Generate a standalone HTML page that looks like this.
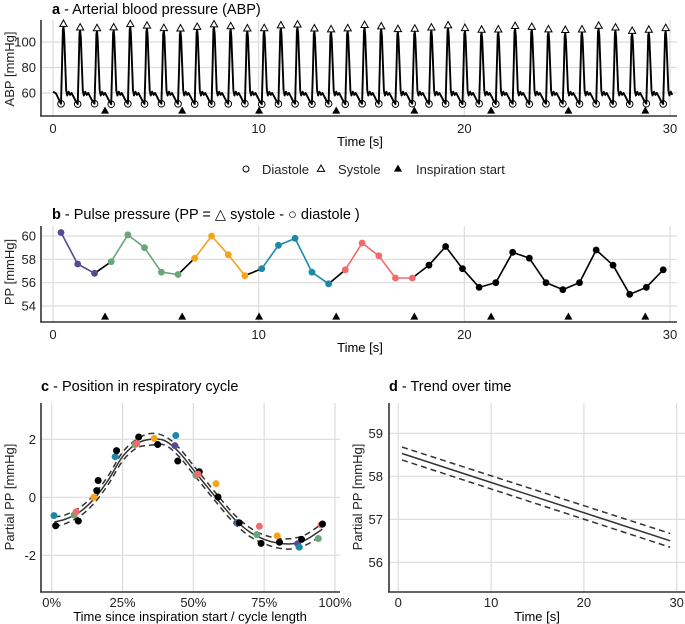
<!DOCTYPE html>
<html><head><meta charset="utf-8"><style>
html,body{margin:0;padding:0;background:#fff;width:685px;height:624px;overflow:hidden}
svg{display:block;font-family:"Liberation Sans",sans-serif}
</style></head><body>
<svg id="fig" width="685" height="624" viewBox="0 0 685 624"></svg>
<script>
// ---- data ----
const beatTimes=[0.39,1.20,2.02,2.83,3.64,4.45,5.27,6.08,6.89,7.71,8.52,9.33,10.15,10.96,11.77,12.59,13.40,14.21,15.03,15.84,16.65,17.47,18.28,19.09,19.91,20.72,21.53,22.35,23.16,23.97,24.79,25.60,26.41,27.23,28.04,28.85,29.67];
const ppValues=[60.3,57.6,56.8,57.8,60.1,59.0,56.9,56.7,58.1,60.0,58.4,56.6,57.2,59.2,59.8,56.9,55.9,57.1,59.4,58.3,56.4,56.4,57.5,59.1,57.2,55.6,56.0,58.6,58.1,56.0,55.4,56.0,58.8,57.5,55.0,55.6,57.1];
const diaValues=[51.5,51.3,51.6,51.2,51.5,51.4,51.6,51.5,51.3,51.4,51.5,51.6,51.2,51.4,51.5,51.3,51.6,51.2,51.5,51.5,51.3,51.6,51.4,51.5,51.3,51.6,51.4,51.5,51.3,51.5,51.6,51.4,51.5,51.4,51.3,51.6,51.4];
const cycleGroup=[0,0,0,1,1,1,1,1,2,2,2,2,3,3,3,3,3,4,4,4,4,4,-1,-1,-1,-1,-1,-1,-1,-1,-1,-1,-1,-1,-1,-1,-1];
const inspTimes=[2.53,6.28,10.02,13.77,17.57,21.3,25.06,28.8];
const groupColors=["#574b90","#6aa67a","#f5a31a","#1a8aa8","#f46a6b"];
// panel c
const cPct=[0.8,1.4,7.9,8.6,9.4,14.9,15.9,16.4,22.4,22.9,29.4,30.0,30.7,36.2,37.4,43.5,43.8,44.5,50.9,52.1,51.6,58.0,58.7,65.3,65.8,66.2,72.4,73.3,73.9,79.6,80.4,86.8,87.4,88.2,94.1,95.1,95.6];
const cVal=[-0.63,-0.98,-0.61,-0.50,-0.82,0.0,0.23,0.58,1.40,1.61,1.82,1.85,2.08,2.03,1.82,1.78,2.13,1.25,0.76,0.88,0.80,0.47,0.01,-0.88,-0.87,-0.88,-1.29,-1.0,-1.59,-1.33,-1.55,-1.6,-1.72,-1.45,-1.42,-0.95,-0.92];
const cGroup=[3,-1,1,4,-1,2,-1,-1,3,-1,1,4,-1,2,-1,0,3,-1,1,-1,4,2,-1,0,3,-1,1,4,-1,2,-1,0,3,-1,1,4,-1];
const fitPct=[1,5,10,15,20,25,30,35,40,45,50,55,60,65,70,75,80,85,90,95.5];
const fitVal=[-0.85,-0.75,-0.5,-0.05,0.6,1.4,1.85,2.0,1.95,1.55,0.95,0.35,-0.25,-0.8,-1.2,-1.45,-1.58,-1.6,-1.45,-1.1];
const fitHalf=[0.17,0.15,0.15,0.15,0.15,0.15,0.15,0.2,0.15,0.15,0.15,0.15,0.15,0.15,0.15,0.15,0.17,0.18,0.18,0.2];
// panel d
const trendT=[0.4,29.3];
const trendFit=[58.53,56.5];
const trendUp=[58.68,56.67];
const trendLo=[58.38,56.35];

const NS="http://www.w3.org/2000/svg";
const svg=document.getElementById('fig');
function el(tag,attrs,parent,name,inter){const e=document.createElementNS(NS,tag);for(const k in attrs)e.setAttribute(k,attrs[k]);


(parent||svg).appendChild(e);return e;}
function txt(x,y,s,opts,name){const t=el('text',Object.assign({x:x,y:y,'font-size':13,fill:'#222'},opts||{}),null,name);t.textContent=s;return t;}
function lin(d0,d1,r0,r1){return v=>r0+(v-d0)*(r1-r0)/(d1-d0);}
function grid(xs,ys,X,Y,x0,x1,y0,y1,p){xs.forEach(v=>el('line',{x1:X(v),x2:X(v),y1:y0,y2:y1,stroke:'#dcdcdc','stroke-width':1.2},null,p+'-vgrid'));
ys.forEach(v=>el('line',{x1:x0,x2:x1,y1:Y(v),y2:Y(v),stroke:'#dcdcdc','stroke-width':1.2},null,p+'-hgrid'));}
function axes(x0,x1,y0,y1,p){el('line',{x1:x0,x2:x0,y1:y0,y2:y1,stroke:'#333','stroke-width':1.6},null,p+'-y-axis');el('line',{x1:x0-1,x2:x1,y1:y1,y2:y1,stroke:'#333','stroke-width':1.6},null,p+'-x-axis');}
function tri(x,y,s,fill,name){return el('path',{d:`M${x},${y-s}L${x+s*0.9},${y+s*0.6}L${x-s*0.9},${y+s*0.6}Z`,fill:fill,stroke:'#000','stroke-width':1},null,name);}

// ---- Panel a ----
{const X=lin(0,30,53,670),Y=lin(60,100,93,42);
grid([0,10,20,30],[60,80,100],X,Y,41,677,20,116,'abp');
let pts=[[0,61],[0.15,59.5],[0.28,55]];
for(let i=0;i<beatTimes.length;i++){const t=beatTimes[i],d=diaValues[i],s=d+ppValues[i];
pts.push([t,d],[t+0.05,d+(s-d)*0.5],[t+0.09,s-2],[t+0.12,s],[t+0.15,s-5],[t+0.25,62],[t+0.3,58],[t+0.37,61],[t+0.44,58.5],[t+0.51,60],[t+0.61,57],[t+0.72,53.5]);}
pts=pts.filter(p=>p[0]<=30.15);
el('path',{d:'M'+pts.map(p=>X(p[0]).toFixed(1)+','+Y(p[1]).toFixed(1)).join('L'),fill:'none',stroke:'#000','stroke-width':1.9,'stroke-linejoin':'round'},null,'abp-waveform');
beatTimes.forEach((t,i)=>{el('circle',{cx:X(t),cy:Y(diaValues[i]),r:3.3,fill:'none',stroke:'#000','stroke-width':1},null,'diastole-marker');
tri(X(t+0.12),Y(diaValues[i]+ppValues[i])-3,4,'#fff','systole-marker');});
inspTimes.forEach(t=>tri(X(t),111,3.5,'#000','inspiration-marker'));
axes(41,677,20,116,'abp');
[60,80,100].forEach(v=>txt(36,Y(v)+4.5,v,{'text-anchor':'end'},'abp-y-tick'));
[0,10,20,30].forEach(v=>txt(X(v),133,v,{'text-anchor':'middle'},'abp-x-tick'));
txt(360,146,'Time [s]',{'text-anchor':'middle',fill:'#000'},'abp-x-title');
txt(14,69,'ABP [mmHg]',{'text-anchor':'middle',transform:'rotate(-90 14 69)'},'abp-y-title');
const t=txt(52,14,'',{'font-size':14.5,fill:'#000'},'abp-title');t.innerHTML='<tspan font-weight="bold">a</tspan> - Arterial blood pressure (ABP)';
// legend
el('circle',{cx:246,cy:169,r:3,fill:'none',stroke:'#000'},null,'legend-diastole-icon');txt(262,174,'Diastole',{},'legend-diastole');
tri(321,169,4,'#fff','legend-systole-icon');txt(338,174,'Systole',{},'legend-systole');
tri(398,169,3.5,'#000','legend-inspiration-icon');txt(416,174,'Inspiration start',{},'legend-inspiration');}

// ---- Panel b ----
{const X=lin(0,30,53,670),Y=lin(54,60,306,236);
grid([0,10,20,30],[54,56,58,60],X,Y,41,677,226,322,'pp');
for(let i=0;i<beatTimes.length-1;i++){const g=cycleGroup[i]===cycleGroup[i+1]&&cycleGroup[i]>=0?groupColors[cycleGroup[i]]:'#000';
el('line',{x1:X(beatTimes[i]),y1:Y(ppValues[i]),x2:X(beatTimes[i+1]),y2:Y(ppValues[i+1]),stroke:g,'stroke-width':1.6},null,'pp-segment');}
beatTimes.forEach((t,i)=>el('circle',{cx:X(t),cy:Y(ppValues[i]),r:3.4,fill:cycleGroup[i]>=0?groupColors[cycleGroup[i]]:'#000'},null,'pp-point'));
inspTimes.forEach(t=>tri(X(t),317,3.5,'#000','inspiration-marker'));
axes(41,677,226,322,'pp');
[54,56,58,60].forEach(v=>txt(36,Y(v)+4.5,v,{'text-anchor':'end'},'pp-y-tick'));
[0,10,20,30].forEach(v=>txt(X(v),339,v,{'text-anchor':'middle'},'pp-x-tick'));
txt(360,352,'Time [s]',{'text-anchor':'middle',fill:'#000'},'pp-x-title');
txt(14,272,'PP [mmHg]',{'text-anchor':'middle',transform:'rotate(-90 14 272)'},'pp-y-title');
const t=txt(52,219,'',{'font-size':14.5,fill:'#000'},'pp-title');t.innerHTML='<tspan font-weight="bold">b</tspan> - Pulse pressure (PP = △ systole - ○ diastole )';}

function smooth(P){let d='M'+P[0][0].toFixed(1)+','+P[0][1].toFixed(1);
for(let i=0;i<P.length-1;i++){const p0=P[Math.max(0,i-1)],p1=P[i],p2=P[i+1],p3=P[Math.min(P.length-1,i+2)];
d+=`C${(p1[0]+(p2[0]-p0[0])/6).toFixed(1)},${(p1[1]+(p2[1]-p0[1])/6).toFixed(1)} ${(p2[0]-(p3[0]-p1[0])/6).toFixed(1)},${(p2[1]-(p3[1]-p1[1])/6).toFixed(1)} ${p2[0].toFixed(1)},${p2[1].toFixed(1)}`;}return d;}

// ---- Panel c ----
{const X=lin(0,100,51.7,335),Y=lin(0,2,497.3,439.3);
grid([0,25,50,75,100],[-2,0,2],X,Y,41,340,403,592,'cycle');
el('path',{d:smooth(fitPct.map((p,i)=>[X(p),Y(fitVal[i]+fitHalf[i])])),fill:'none',stroke:'#333','stroke-width':1.5,'stroke-dasharray':'6,4'},null,'cycle-ci-upper');
el('path',{d:smooth(fitPct.map((p,i)=>[X(p),Y(fitVal[i]-fitHalf[i])])),fill:'none',stroke:'#333','stroke-width':1.5,'stroke-dasharray':'6,4'},null,'cycle-ci-lower');
el('path',{d:smooth(fitPct.map((p,i)=>[X(p),Y(fitVal[i])])),fill:'none',stroke:'#333','stroke-width':1.5},null,'cycle-fit');
cPct.forEach((p,i)=>el('circle',{cx:X(p),cy:Y(cVal[i]),r:3.5,fill:cGroup[i]>=0?groupColors[cGroup[i]]:'#000'},null,'cycle-point'));
axes(41,340,403,592,'cycle');
[-2,0,2].forEach(v=>txt(36,Y(v)+4.5,v,{'text-anchor':'end'},'cycle-y-tick'));
[0,25,50,75,100].forEach(v=>txt(X(v),607,v+'%',{'text-anchor':'middle'},'cycle-x-tick'));
txt(190,621,'Time since inspiration start / cycle length',{'text-anchor':'middle',fill:'#000'},'cycle-x-title');
txt(14,497,'Partial PP [mmHg]',{'text-anchor':'middle',transform:'rotate(-90 14 497)'},'cycle-y-title');
const t=txt(41,391,'',{'font-size':14.5,fill:'#000'},'cycle-title');t.innerHTML='<tspan font-weight="bold">c</tspan> - Position in respiratory cycle';}

// ---- Panel d ----
{const X=lin(0,30,398.3,676.7),Y=lin(56,59,562.3,433.3);
grid([0,10,20,30],[56,57,58,59],X,Y,389,685,403,592,'trend');
el('line',{x1:X(trendT[0]),y1:Y(trendUp[0]),x2:X(trendT[1]),y2:Y(trendUp[1]),stroke:'#333','stroke-width':1.5,'stroke-dasharray':'6,4'},null,'trend-ci-upper');
el('line',{x1:X(trendT[0]),y1:Y(trendLo[0]),x2:X(trendT[1]),y2:Y(trendLo[1]),stroke:'#333','stroke-width':1.5,'stroke-dasharray':'6,4'},null,'trend-ci-lower');
el('line',{x1:X(trendT[0]),y1:Y(trendFit[0]),x2:X(trendT[1]),y2:Y(trendFit[1]),stroke:'#333','stroke-width':1.5},null,'trend-fit');
axes(389,685,403,592,'trend');
[56,57,58,59].forEach(v=>txt(383,Y(v)+4.5,v,{'text-anchor':'end'},'trend-y-tick'));
[0,10,20,30].forEach(v=>txt(X(v),607,v,{'text-anchor':'middle'},'trend-x-tick'));
txt(537,621,'Time [s]',{'text-anchor':'middle',fill:'#000'},'trend-x-title');
txt(362,497,'Partial PP [mmHg]',{'text-anchor':'middle',transform:'rotate(-90 362 497)'},'trend-y-title');
const t=txt(389,391,'',{'font-size':14.5,fill:'#000'},'trend-title');t.innerHTML='<tspan font-weight="bold">d</tspan> - Trend over time';}
</script>
</body></html>
